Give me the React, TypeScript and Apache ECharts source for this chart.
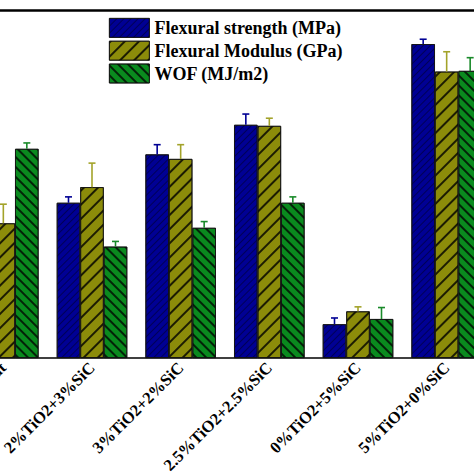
import React, { useEffect, useRef } from "react";
import * as echarts from "echarts";

const categories = ["Neat", "2%TiO2+3%SiC", "3%TiO2+2%SiC", "2.5%TiO2+2.5%SiC", "0%TiO2+5%SiC", "5%TiO2+0%SiC"];
const seriesNames = ["Flexural strength (MPa)", "Flexural Modulus (GPa)", "WOF (MJ/m2)"];
const strength = [48.0, 44.6, 58.5, 67.0, 9.7, 90.2];
const strengthErr = [2.0, 1.7, 2.8, 3.1, 1.8, 1.4];
const modulus = [38.7, 49.1, 57.2, 66.7, 13.4, 82.3];
const modulusErr = [5.5, 6.9, 4.1, 2.2, 1.3, 5.7];
const wof = [60.1, 32.0, 37.4, 44.6, 11.2, 82.5];
const wofErr = [1.7, 1.5, 1.8, 1.7, 3.3, 3.8];

const colors = ["#000094", "#8c8c0a", "#0a8a1e"];
const errColors = ["#000094", "#a3a32a", "#1a8a2a"];
const BAR_FRAC = 0.265;
const SHIFT_LEFT = 41;
const EXTRA_RIGHT = 17;

export default function App() {
  const ref = useRef<HTMLDivElement>(null);
  useEffect(() => {
    if (!ref.current) return;
    const chart = echarts.init(ref.current, undefined, { renderer: "svg" });
    const values = [strength, modulus, wof];
    const errs = [strengthErr, modulusErr, wofErr];
    const decals = [
      { symbol: "rect", symbolSize: 1, dashArrayX: [1, 0], dashArrayY: [1, 4], rotation: -Math.PI / 4, color: "rgba(0,0,40,0.55)" },
      { symbol: "rect", symbolSize: 1, dashArrayX: [1, 0], dashArrayY: [1.3, 8], rotation: -Math.PI / 4, color: "rgba(0,0,0,0.8)" },
      { symbol: "rect", symbolSize: 1, dashArrayX: [1, 0], dashArrayY: [1.2, 5], rotation: Math.PI / 4, color: "rgba(0,0,0,0.75)" },
    ];
    const barSeries = values.map((v, i) => ({
      name: seriesNames[i],
      type: "bar",
      data: v,
      barWidth: BAR_FRAC * 100 + "%",
      barGap: "0%",
      itemStyle: { color: colors[i], borderColor: "#111", borderWidth: 0.8, decal: decals[i] },
    }));
    const errData: number[][] = [];
    errs.forEach((e, s) => e.forEach((d, c) => errData.push([c, values[s][c], d, s])));
    const errSeries = {
      type: "custom",
      data: errData,
      z: 5,
      silent: true,
      renderItem: (params: any, api: any) => {
        const c = api.value(0);
        const v = api.value(1);
        const e = api.value(2);
        const s = api.value(3);
        const band = api.size([1, 0])[0];
        const w = band * BAR_FRAC;
        const p0 = api.coord([c, v]);
        const p1 = api.coord([c, v + e]);
        const x = p0[0] + (s - 1) * w;
        const style = { stroke: errColors[s], lineWidth: 1.6 };
        return {
          type: "group",
          children: [
            { type: "line", shape: { x1: x, y1: p0[1], x2: x, y2: p1[1] }, style },
            { type: "line", shape: { x1: x - 3.5, y1: p1[1], x2: x + 3.5, y2: p1[1] }, style },
          ],
        };
      },
    };
    chart.setOption({
      animation: false,
      backgroundColor: "#fff",
      legend: {
        orient: "vertical",
        left: 104 + SHIFT_LEFT,
        top: 13,
        itemWidth: 40,
        itemHeight: 19,
        itemGap: 3,
        itemStyle: { borderColor: "#111", borderWidth: 0.8 },
        icon: "rect",
        data: seriesNames,
        textStyle: { fontFamily: "Liberation Serif", fontWeight: "bold", fontSize: 18, color: "#000" },
      },
      grid: { left: 0, right: 0, top: 10, bottom: 116, containLabel: false, outerBoundsMode: "none" },
      xAxis: [
        {
          type: "category",
          data: categories,
          axisLine: { lineStyle: { color: "#000", width: 1.5 } },
          axisTick: { alignWithLabel: true, length: 5, lineStyle: { color: "#000", width: 1.5 } },
          axisLabel: {
            rotate: 45,
            interval: 0,
            margin: 7,
            fontFamily: "Liberation Serif",
            fontWeight: "bold",
            fontSize: 16.5,
            color: "#000",
          },
        },
        {
          type: "category",
          position: "top",
          data: categories,
          axisLine: { lineStyle: { color: "#000", width: 2.5 } },
          axisTick: { show: false },
          axisLabel: { show: false },
        },
      ],
      yAxis: { type: "value", min: 0, max: 100, show: false, splitLine: { show: false } },
      series: [...barSeries, errSeries],
    });
    return () => chart.dispose();
  }, []);
  return (
    <div style={{ position: "fixed", left: 0, top: 0, width: 474, height: 474, overflow: "hidden", background: "#fff" }}>
      <div
        ref={ref}
        style={{ position: "absolute", left: -SHIFT_LEFT, top: 0, width: 474 + SHIFT_LEFT + EXTRA_RIGHT, height: 474 }}
      />
    </div>
  );
}
